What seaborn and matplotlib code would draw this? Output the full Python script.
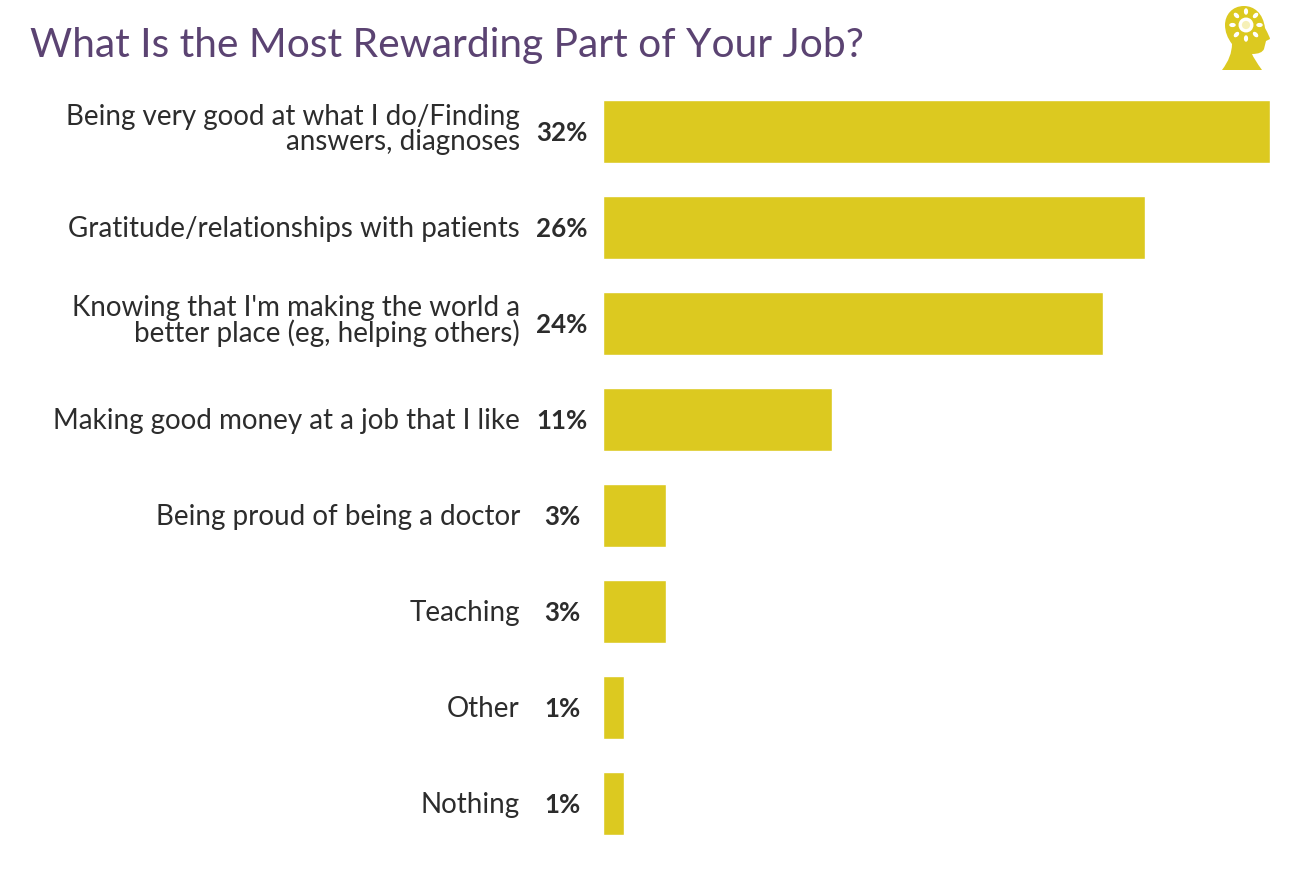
import matplotlib
matplotlib.use("Agg")
import matplotlib.pyplot as plt
import pandas as pd
import seaborn as sns
from matplotlib.patches import Circle, Ellipse, PathPatch
from matplotlib.path import Path
from matplotlib.transforms import ScaledTranslation
import numpy as np

# Survey answers and their shares in percent
categories = [
    "Being very good at what I do/Finding\nanswers, diagnoses",
    "Gratitude/relationships with patients",
    "Knowing that I'm making the world a\nbetter place (eg, helping others)",
    "Making good money at a job that I like",
    "Being proud of being a doctor",
    "Teaching",
    "Other",
    "Nothing",
]
shares = [32, 26, 24, 11, 3, 3, 1, 1]
title = "What Is the Most Rewarding Part of Your Job?"

BAR = "#DCC920"
INK = "#2C2C2C"
PURPLE = "#5B4372"
W, H = 1290, 878

sns.set_theme(style="white")
plt.rcParams["font.family"] = ["Lato", "DejaVu Sans"]

fig = plt.figure(figsize=(W / 100, H / 100), dpi=100, facecolor="white")
ax = fig.add_axes([603 / W, 1 - 852.5 / H, 667 / W, 768 / H])

frame = pd.DataFrame({"answer": categories, "share": shares})
sns.barplot(data=frame, x="share", y="answer", order=categories, color=BAR,
            saturation=1, width=62.5 / 96, ax=ax)
ax.set_xlim(0, 32)
ax.set_ylim(7.5, -0.5)
ax.set_xlabel("")
ax.set_ylabel("")
ax.xaxis.set_visible(False)
sns.despine(ax=ax, left=True, bottom=True)

# Answer text right-aligned in a column to the left of the percentages;
# wrapped answers sit a little higher than their bar's centre
ax.tick_params(axis="y", length=0, pad=83 * 0.72)
for lab in ax.get_yticklabels():
    lab.set_fontsize(20)
    lab.set_color(INK)
    lab.set_ha("right")
    lab.set_linespacing(0.93)
    lift = 5.0 if "\n" in lab.get_text() else 1.5
    lab.set_transform(lab.get_transform()
                      + ScaledTranslation(0, lift / 100, fig.dpi_scale_trans))

# Percentages centred in the gutter next to the bars
for i, v in enumerate(shares):
    ax.annotate(f"{v}%", xy=(0, i), xytext=(-41 * 0.72, -0.6),
                textcoords="offset points", ha="center", va="center",
                fontsize=18.6, fontweight="bold", color=INK)

fig.text(30 / W, 1 - 46 / H, title, fontsize=29.3, color=PURPLE, ha="left",
         va="center", fontweight="normal")

# Head-with-sun emblem, laid out in pixel coordinates on an overlay
overlay = fig.add_axes([0, 0, 1, 1], facecolor="none")
overlay.set_xlim(0, W)
overlay.set_ylim(H, 0)
overlay.axis("off")
head = [
    (Path.MOVETO, (1222, 71)), (Path.LINETO, (1262, 71)),
    (Path.CURVE3, (1254, 60)), (Path.CURVE3, (1252, 55)),
    (Path.CURVE3, (1262, 55)), (Path.CURVE3, (1264, 50)),
    (Path.LINETO, (1266, 42)), (Path.LINETO, (1270, 40)),
    (Path.CURVE3, (1270, 38)), (Path.CURVE3, (1265, 29)),
    (Path.CURVE4, (1263, 14)), (Path.CURVE4, (1254, 7)), (Path.CURVE4, (1244, 7)),
    (Path.CURVE4, (1232, 7)), (Path.CURVE4, (1225, 16)), (Path.CURVE4, (1225, 26)),
    (Path.CURVE3, (1225, 36)), (Path.CURVE3, (1232, 45)),
    (Path.CURVE3, (1232, 58)), (Path.CURVE3, (1222, 71)),
]
overlay.add_patch(PathPatch(Path([p for _, p in head], [c for c, _ in head]),
                            facecolor=BAR, edgecolor="none"))
sun = (1246, 26)
overlay.add_patch(Circle(sun, 5.8, facecolor="#F6F0B8", edgecolor="white", linewidth=2.4))
for a in np.arange(0, 360, 45):
    r = np.deg2rad(a)
    overlay.add_patch(Ellipse((sun[0] + 13.5 * np.cos(r), sun[1] + 13.5 * np.sin(r)),
                              6.5, 4.2, angle=a, facecolor="white", edgecolor="none"))

fig.savefig("out.png", dpi=100, facecolor="white")
